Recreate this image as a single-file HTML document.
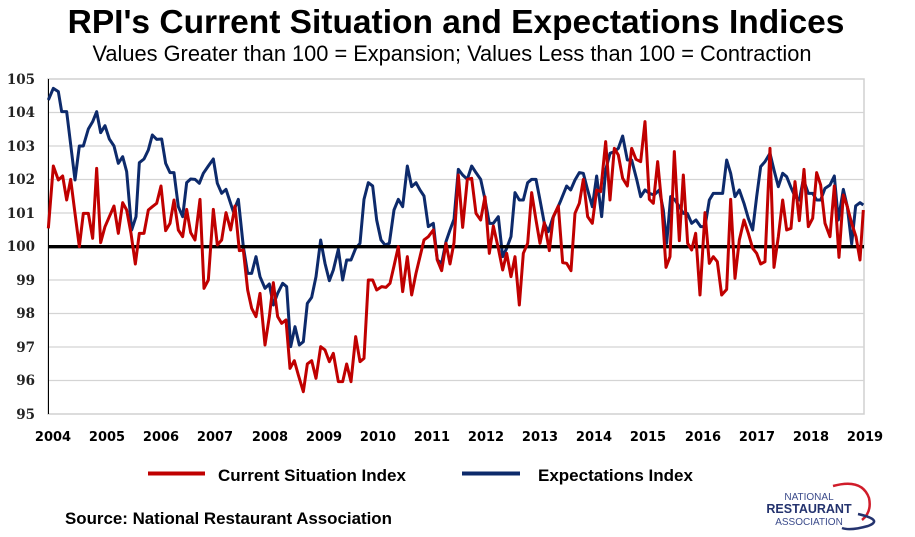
<!DOCTYPE html>
<html><head><meta charset="utf-8"><style>
html,body{margin:0;padding:0;background:#fff;width:915px;height:537px;overflow:hidden}
</style></head><body>
<svg width="915" height="537" xmlns="http://www.w3.org/2000/svg" font-family="Liberation Sans, sans-serif">
<text x="456" y="33" text-anchor="middle" font-size="33.5" font-weight="bold">RPI's Current Situation and Expectations Indices</text>
<text x="452" y="61" text-anchor="middle" font-size="21.8">Values Greater than 100 = Expansion; Values Less than 100 = Contraction</text>
<rect x="48" y="79" width="816" height="335" fill="none" stroke="#d0d0d0" stroke-width="1.5"/>
<g stroke="#d4d4d4" stroke-width="1.2">
<line x1="48" x2="864" y1="112.5" y2="112.5"/><line x1="48" x2="864" y1="146" y2="146"/>
<line x1="48" x2="864" y1="179.5" y2="179.5"/><line x1="48" x2="864" y1="213" y2="213"/>
<line x1="48" x2="864" y1="280" y2="280"/><line x1="48" x2="864" y1="313.5" y2="313.5"/>
<line x1="48" x2="864" y1="347" y2="347"/><line x1="48" x2="864" y1="380.5" y2="380.5"/>
</g>
<line x1="48.5" y1="79" x2="48.5" y2="414" stroke="#000" stroke-width="1"/>
<g font-family="DejaVu Serif, serif" font-weight="bold" font-size="13.5" text-anchor="end" fill="#222">
<text x="35" y="84">105</text><text x="35" y="117">104</text><text x="35" y="151">103</text>
<text x="35" y="184">102</text><text x="35" y="218">101</text><text x="35" y="251">100</text>
<text x="35" y="285">99</text><text x="35" y="318">98</text><text x="35" y="352">97</text>
<text x="35" y="385">96</text><text x="35" y="419">95</text>
</g>
<g font-family="DejaVu Sans, sans-serif" font-weight="bold" font-size="13" text-anchor="middle">
<text x="53" y="441">2004</text><text x="107" y="441">2005</text><text x="161" y="441">2006</text>
<text x="215" y="441">2007</text><text x="270" y="441">2008</text><text x="324" y="441">2009</text>
<text x="378" y="441">2010</text><text x="432" y="441">2011</text><text x="486" y="441">2012</text>
<text x="540" y="441">2013</text><text x="594" y="441">2014</text><text x="648" y="441">2015</text>
<text x="703" y="441">2016</text><text x="757" y="441">2017</text><text x="811" y="441">2018</text>
<text x="865" y="441">2019</text>
</g>
<g transform="translate(0,60) scale(0.33333)" fill="none" stroke-width="9" stroke-linejoin="round">
<polyline stroke="#0d2a6b" points="145,120 160,85 175,95 185,155 200,155 225,360 238,258 250,258 265,207 278,185 290,155 302,218 315,197 328,237 342,258 355,310 368,290 380,335 395,510 408,470 418,308 432,297 445,270 457,225 470,238 485,237 497,310 510,338 522,338 535,440 548,470 560,368 572,357 585,358 598,370 610,340 625,318 640,297 652,370 665,400 678,388 700,455 715,418 730,560 743,640 755,640 768,590 780,650 795,685 808,672 820,735 833,700 848,670 860,680 872,860 885,800 898,855 910,845 922,730 935,712 948,650 962,540 975,610 988,662 1000,630 1015,568 1028,660 1040,600 1053,600 1067,565 1080,550 1092,418 1105,368 1118,378 1130,480 1143,540 1155,555 1168,550 1182,450 1195,418 1208,440 1222,318 1235,380 1248,368 1260,390 1272,408 1285,500 1300,490 1312,600 1325,610 1338,545 1350,510 1362,478 1375,328 1388,345 1402,358 1415,318 1428,338 1442,358 1455,418 1468,490 1480,490 1495,470 1508,590 1520,565 1533,530 1545,398 1558,420 1570,420 1583,368 1595,358 1608,358 1620,420 1633,490 1645,515 1658,475 1670,450 1683,420 1700,378 1712,390 1725,360 1738,338 1750,340 1763,390 1777,440 1790,348 1805,470 1817,330 1830,280 1843,275 1855,265 1868,228 1882,300 1895,300 1910,358 1922,410 1935,390 1948,400 1962,405 1978,390 1990,450 2000,550 2012,410 2025,420 2038,440 2050,460 2062,460 2075,490 2088,480 2102,500 2115,500 2128,420 2140,400 2152,400 2168,400 2180,300 2192,340 2205,410 2218,390 2232,430 2245,475 2258,510 2270,410 2282,320 2295,305 2310,280 2322,330 2335,380 2348,340 2360,350 2372,380 2385,410 2398,420 2410,358 2425,400 2438,400 2450,420 2462,420 2475,385 2490,375 2503,348 2515,480 2530,388 2542,440 2555,552 2567,438 2580,428 2590,435"/>
<line x1="145" y1="560" x2="2592" y2="560" stroke="#000" stroke-width="10"/>
<polyline stroke="#c00000" points="145,505 160,318 175,360 188,348 200,420 212,358 225,460 238,560 250,460 265,460 278,535 290,325 302,548 315,500 328,470 342,438 355,520 368,428 380,450 393,520 406,612 418,520 432,520 445,450 457,440 470,430 483,378 497,512 510,490 522,420 535,510 548,530 560,448 572,518 585,540 600,418 612,685 625,660 640,448 652,555 665,540 678,458 692,510 705,438 718,572 730,570 743,690 755,745 768,770 780,700 795,855 808,770 820,668 833,770 845,790 858,780 870,925 883,902 895,945 910,995 922,912 935,902 948,955 962,860 975,870 988,905 1000,880 1015,965 1028,965 1040,912 1053,965 1067,830 1080,905 1092,895 1105,660 1118,660 1130,690 1145,680 1158,682 1170,670 1182,618 1195,560 1208,695 1222,590 1235,705 1248,640 1260,590 1272,540 1285,530 1300,510 1312,600 1325,632 1338,550 1350,612 1362,548 1375,345 1388,502 1402,358 1415,355 1428,460 1442,480 1455,410 1468,580 1480,498 1495,565 1508,630 1520,580 1533,650 1545,590 1558,735 1570,580 1583,550 1595,398 1608,480 1620,550 1633,488 1648,572 1660,470 1675,438 1688,608 1700,610 1713,632 1725,460 1738,430 1750,358 1763,470 1777,490 1790,390 1802,395 1817,245 1830,420 1843,265 1855,285 1868,355 1882,378 1895,265 1908,298 1922,305 1935,185 1948,418 1960,430 1973,305 1985,430 1998,622 2010,590 2023,275 2038,542 2050,345 2063,550 2075,570 2087,520 2100,705 2115,458 2128,610 2140,590 2152,605 2165,705 2180,688 2192,418 2205,655 2218,540 2232,480 2245,520 2258,565 2270,580 2282,612 2295,605 2310,265 2322,622 2335,530 2348,420 2360,510 2373,505 2385,365 2398,482 2412,328 2425,500 2438,475 2450,338 2462,375 2475,490 2490,530 2503,378 2517,592 2530,405 2542,440 2555,490 2568,530 2580,600 2590,450"/>
</g>
<line x1="148" y1="473.5" x2="205" y2="473.5" stroke="#c00000" stroke-width="4"/>
<text x="218" y="481" font-size="17" font-weight="bold">Current Situation Index</text>
<line x1="462" y1="473.5" x2="520" y2="473.5" stroke="#0d2a6b" stroke-width="4"/>
<text x="538" y="481" font-size="17" font-weight="bold">Expectations Index</text>
<text x="65" y="524" font-size="16.9" font-weight="bold">Source: National Restaurant Association</text>
<path d="M833,486 Q862,478 869,498 Q872,512 862,520" fill="none" stroke="#d01c2a" stroke-width="2.5"/>
<path d="M858,514 Q884,520 868,526 Q850,531 842,528" fill="none" stroke="#24336e" stroke-width="2.5"/>
<text x="809" y="500" font-size="10" text-anchor="middle" fill="#3a4a8a">NATIONAL</text>
<text x="809" y="513" font-size="12.5" font-weight="bold" text-anchor="middle" fill="#24336e">RESTAURANT</text>
<text x="809" y="525" font-size="10" text-anchor="middle" fill="#3a4a8a">ASSOCIATION</text>
</svg>
</body></html>
